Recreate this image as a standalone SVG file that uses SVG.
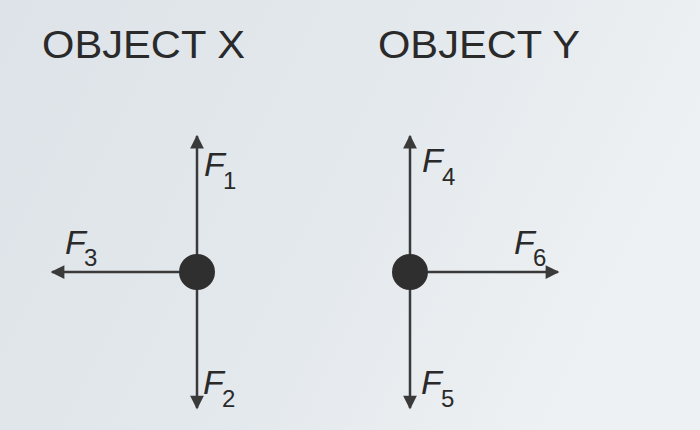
<svg xmlns="http://www.w3.org/2000/svg" width="700" height="430" viewBox="0 0 700 430">
<defs>
<linearGradient id="bg" x1="0" y1="0" x2="1" y2="0.3">
<stop offset="0" stop-color="#dde3e8"/><stop offset="0.6" stop-color="#e4e9ed"/><stop offset="1" stop-color="#eef1f3"/>
</linearGradient>
<marker id="ah" viewBox="0 0 10 10" refX="9" refY="5" markerWidth="7" markerHeight="5.5" orient="auto" markerUnits="strokeWidth">
<path d="M0,0 L10,5 L0,10 Z" fill="#3a3a3a"/>
</marker>
<style>
.t{font-family:"Liberation Sans",Arial,sans-serif;fill:#2a2a2a}
.f{font-family:"Liberation Sans",Arial,sans-serif;font-style:italic;font-size:34px;fill:#2a2a2a}
.s{font-family:"Liberation Sans",Arial,sans-serif;font-size:24px;fill:#2a2a2a}
.ln{stroke:#3a3a3a;stroke-width:2.5;fill:none;marker-end:url(#ah)}
</style>
</defs>
<rect width="700" height="430" fill="url(#bg)"/>
<text class="t" x="42" y="58" font-size="39" textLength="203" lengthAdjust="spacingAndGlyphs">OBJECT X</text>
<text class="t" x="378" y="58" font-size="39" textLength="202" lengthAdjust="spacingAndGlyphs">OBJECT Y</text>
<g id="connectors">
<line class="ln" x1="197" y1="272" x2="197" y2="136"/>
<line class="ln" x1="197" y1="272" x2="197" y2="408"/>
<line class="ln" x1="197" y1="272" x2="52" y2="272"/>
<line class="ln" x1="410" y1="272" x2="410" y2="136"/>
<line class="ln" x1="410" y1="272" x2="410" y2="408"/>
<line class="ln" x1="410" y1="272" x2="558" y2="272"/>
</g>
<g id="objectX"><circle cx="197" cy="272" r="18" fill="#2f2f2f"/></g>
<g id="objectY"><circle cx="410" cy="272" r="18" fill="#2f2f2f"/></g>
<g id="F1"><text class="f" x="204" y="176">F</text><text class="s" x="223" y="189">1</text></g>
<g id="F3"><text class="f" x="65" y="254">F</text><text class="s" x="84" y="266">3</text></g>
<g id="F2"><text class="f" x="203" y="394">F</text><text class="s" x="222" y="407">2</text></g>
<g id="F4"><text class="f" x="422" y="172">F</text><text class="s" x="442" y="185">4</text></g>
<g id="F6"><text class="f" x="514" y="254">F</text><text class="s" x="533" y="266">6</text></g>
<g id="F5"><text class="f" x="421" y="394">F</text><text class="s" x="441" y="407">5</text></g>
</svg>
